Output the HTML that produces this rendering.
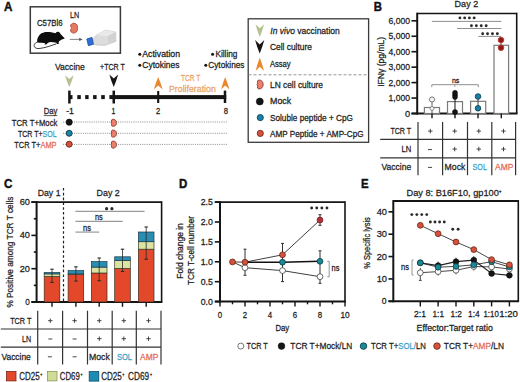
<!DOCTYPE html>
<html><head><meta charset="utf-8"><style>
html,body{margin:0;padding:0;background:#fff;width:520px;height:382px;overflow:hidden}
svg{display:block}
text{font-family:"Liberation Sans",sans-serif}
</style></head><body>
<svg width="520" height="382" viewBox="0 0 520 382">
<rect width="520" height="382" fill="#fff"/>
<text x="3.90" y="10.70" font-size="13.28" fill="#111" stroke="#111" stroke-width="0.45" font-weight="bold" textLength="8.40" lengthAdjust="spacingAndGlyphs">A</text>
<rect x="30.30" y="6.80" width="90.10" height="46.40" fill="none" stroke="#3a3a3a" stroke-width="1.5"/>
<text x="36.90" y="26.10" font-size="9.12" fill="#1e1e1e" stroke="#1e1e1e" stroke-width="0.26" font-weight="normal" textLength="25.70" lengthAdjust="spacingAndGlyphs">C57Bl6</text>
<text x="70.00" y="17.60" font-size="9.44" fill="#1e1e1e" stroke="#1e1e1e" stroke-width="0.26" font-weight="normal" textLength="9.20" lengthAdjust="spacingAndGlyphs">LN</text>
<path d="M37.3,42.3 C36.6,39.5 38,36 41,33.6 C43,32.3 45,31.8 47.3,31.9 C50,31.9 52.5,32.4 55.5,33.2 C56.5,32.2 57.8,31.6 58.7,32.0 C59.6,32.4 60.2,33.2 60.4,33.8 C61.4,34.8 62.8,36.6 64.8,38.3 C64,39 62.8,39.3 61.8,39.5 C60.6,40.2 59.6,40.8 59.1,41.2 L58.4,43.3 L59.4,44.1 L57.2,44.1 L56.4,42.8 C54.5,42.3 52.5,42 50.4,42 C49,42.3 48,42.9 47.2,43.4 L46.4,44.4 L44.4,44.5 L45.4,43.2 C43,43.2 40,43 37.3,42.3 Z" fill="#0d0d0d"/>
<path d="M38.2,41.8 C35,42.6 33.6,44.6 34.3,46.6 C35,48.3 37.2,48.8 40,48.4 C45,47.8 51,45.8 56.5,43.8" fill="none" stroke="#1a1a1a" stroke-width="0.85"/>
<path d="M74,23.3 C77,23.3 77.8,26 77.6,28.5 C77.4,31.5 76,33.1 73.8,33.1 C71.5,33.1 70.3,31.5 70.6,29.8 C70.8,28.8 71.7,28.6 71.7,28 C71.7,27.4 70.6,27 70.6,26 C70.6,24.3 72,23.3 74,23.3 Z" fill="#e47a62" stroke="#b0503c" stroke-width="0.9"/>
<line x1="69.80" y1="39.40" x2="80.50" y2="39.40" stroke="#666" stroke-width="0.8"/>
<path d="M79.2,37.8 L82.6,39.4 L79.2,41.0 Z" fill="#555"/>
<path d="M93.3,38.6 L96.1,35.3 L105.5,30.2 L115.6,32.0 L116.0,41.4 L104.8,45.4 L96.0,44.9 L93.3,44.2 Z" fill="#dcdcdc" stroke="#bdbdbd" stroke-width="0.6"/>
<path d="M96.1,35.3 L105.5,30.2 L115.6,32.0 L107.5,36.2 Z" fill="#e9e9e9"/>
<path d="M107.5,36.2 L115.6,32.0 L116.0,41.4 L108.5,43.8 Z" fill="#d2d2d2"/>
<path d="M86.8,39.0 L92.0,37.4 L93.4,44.2 L88.4,45.7 Z" fill="#2f6fd4" stroke="#1c4aa8" stroke-width="0.8"/>
<text x="55.00" y="69.50" font-size="9.44" fill="#1e1e1e" stroke="#1e1e1e" stroke-width="0.26" font-weight="normal" textLength="29.80" lengthAdjust="spacingAndGlyphs">Vaccine</text>
<text x="100.00" y="69.50" font-size="9.44" fill="#1e1e1e" stroke="#1e1e1e" stroke-width="0.26" font-weight="normal" textLength="24.80" lengthAdjust="spacingAndGlyphs">+TCR T</text>
<path d="M65.00,75.20 L69.30,79.04 L73.60,75.20 Q71.88,81.20 69.30,87.20 Q66.72,81.20 65.00,75.20 Z" fill="#b5c290"/>
<path d="M109.35,74.40 L113.75,78.43 L118.15,74.40 Q116.39,80.70 113.75,87.00 Q111.11,80.70 109.35,74.40 Z" fill="#151515"/>
<path d="M153.80,89.40 L158.20,85.40 L162.60,89.40 Q160.84,83.15 158.20,76.90 Q155.56,83.15 153.80,89.40 Z" fill="#e8872c"/>
<path d="M221.00,89.40 L225.20,85.40 L229.40,89.40 Q227.72,83.15 225.20,76.90 Q222.68,83.15 221.00,89.40 Z" fill="#e8872c"/>
<line x1="69.40" y1="90.60" x2="69.40" y2="103.50" stroke="#151515" stroke-width="2.5"/>
<line x1="113.75" y1="90.60" x2="113.75" y2="103.50" stroke="#151515" stroke-width="2.5"/>
<line x1="158.20" y1="91.00" x2="158.20" y2="103.00" stroke="#151515" stroke-width="2.1"/>
<line x1="225.00" y1="90.60" x2="225.00" y2="103.00" stroke="#151515" stroke-width="2.5"/>
<rect x="69.70" y="95.10" width="2.80" height="4.00" fill="#151515" stroke="none" stroke-width="1"/>
<rect x="77.30" y="95.10" width="3.50" height="4.00" fill="#151515" stroke="none" stroke-width="1"/>
<rect x="85.20" y="95.10" width="3.40" height="4.00" fill="#151515" stroke="none" stroke-width="1"/>
<rect x="93.10" y="95.10" width="3.50" height="4.00" fill="#151515" stroke="none" stroke-width="1"/>
<rect x="101.20" y="95.10" width="3.60" height="4.00" fill="#151515" stroke="none" stroke-width="1"/>
<rect x="109.40" y="95.10" width="116.80" height="4.00" fill="#151515" stroke="none" stroke-width="1"/>
<text x="142.30" y="57.30" font-size="8.80" fill="#1e1e1e" stroke="#1e1e1e" stroke-width="0.26" font-weight="normal" textLength="37.70" lengthAdjust="spacingAndGlyphs">Activation</text>
<circle cx="139.80" cy="54.30" r="1.50" fill="#151515" stroke="none" stroke-width="0"/>
<text x="142.30" y="68.30" font-size="8.80" fill="#1e1e1e" stroke="#1e1e1e" stroke-width="0.26" font-weight="normal" textLength="37.20" lengthAdjust="spacingAndGlyphs">Cytokines</text>
<circle cx="139.80" cy="65.30" r="1.50" fill="#151515" stroke="none" stroke-width="0"/>
<text x="215.40" y="57.30" font-size="8.80" fill="#1e1e1e" stroke="#1e1e1e" stroke-width="0.26" font-weight="normal" textLength="22.00" lengthAdjust="spacingAndGlyphs">Killing</text>
<circle cx="212.60" cy="54.30" r="1.50" fill="#151515" stroke="none" stroke-width="0"/>
<text x="208.30" y="68.30" font-size="8.80" fill="#1e1e1e" stroke="#1e1e1e" stroke-width="0.26" font-weight="normal" textLength="36.20" lengthAdjust="spacingAndGlyphs">Cytokines</text>
<circle cx="205.80" cy="65.30" r="1.50" fill="#151515" stroke="none" stroke-width="0"/>
<text x="181.00" y="81.20" font-size="9.28" fill="#eba46a" stroke="#eba46a" stroke-width="0.26" font-weight="normal" textLength="19.40" lengthAdjust="spacingAndGlyphs">TCR T</text>
<text x="169.00" y="92.20" font-size="9.28" fill="#eba46a" stroke="#eba46a" stroke-width="0.26" font-weight="normal" textLength="46.80" lengthAdjust="spacingAndGlyphs">Proliferation</text>
<text x="43.70" y="114.20" font-size="8.96" fill="#1e1e1e" stroke="#1e1e1e" stroke-width="0.26" font-weight="normal" textLength="13.70" lengthAdjust="spacingAndGlyphs">Day</text>
<line x1="43.70" y1="115.60" x2="57.40" y2="115.60" stroke="#333" stroke-width="0.8"/>
<text x="66.20" y="114.20" font-size="8.96" fill="#1e1e1e" stroke="#1e1e1e" stroke-width="0.26" font-weight="normal" textLength="7.70" lengthAdjust="spacingAndGlyphs">-1</text>
<text x="111.60" y="114.20" font-size="8.96" fill="#1e1e1e" stroke="#1e1e1e" stroke-width="0.26" font-weight="normal" textLength="3.80" lengthAdjust="spacingAndGlyphs">1</text>
<text x="156.00" y="114.20" font-size="8.96" fill="#1e1e1e" stroke="#1e1e1e" stroke-width="0.26" font-weight="normal" textLength="4.20" lengthAdjust="spacingAndGlyphs">2</text>
<text x="223.70" y="114.20" font-size="8.96" fill="#1e1e1e" stroke="#1e1e1e" stroke-width="0.26" font-weight="normal" textLength="4.30" lengthAdjust="spacingAndGlyphs">8</text>
<line x1="63.00" y1="122.00" x2="228.00" y2="122.00" stroke="#8a8a8a" stroke-width="0.9" stroke-dasharray="1.1,1.1"/>
<line x1="63.00" y1="133.30" x2="228.00" y2="133.30" stroke="#8a8a8a" stroke-width="0.9" stroke-dasharray="1.1,1.1"/>
<line x1="63.00" y1="144.40" x2="228.00" y2="144.40" stroke="#8a8a8a" stroke-width="0.9" stroke-dasharray="1.1,1.1"/>
<text x="11.80" y="125.50" font-size="9.28" fill="#1e1e1e" stroke="#1e1e1e" stroke-width="0.26" font-weight="normal" textLength="45.60" lengthAdjust="spacingAndGlyphs">TCR T+Mock</text>
<text x="18" y="136.5" font-size="9.28" fill="#1e1e1e" stroke="#1e1e1e" stroke-width="0.26" textLength="38.6" lengthAdjust="spacingAndGlyphs">TCR T+<tspan fill="#3aa3c8" stroke="#3aa3c8">SOL</tspan></text>
<text x="14.2" y="147.5" font-size="9.28" fill="#1e1e1e" stroke="#1e1e1e" stroke-width="0.26" textLength="42.4" lengthAdjust="spacingAndGlyphs">TCR T+<tspan fill="#e46a55" stroke="#e46a55">AMP</tspan></text>
<circle cx="69.20" cy="122.20" r="3.10" fill="#151515" stroke="#000" stroke-width="0.6"/>
<circle cx="69.20" cy="133.30" r="3.00" fill="#1a84a6" stroke="#0b3a42" stroke-width="0.9"/>
<circle cx="69.20" cy="144.20" r="3.00" fill="#d6503a" stroke="#6a2418" stroke-width="0.9"/>
<path d="M112.70,119.30 C117.80,118.95 117.80,126.65 112.70,126.30 C110.60,126.30 112.10,122.80 111.20,122.80 C112.10,122.80 110.60,119.30 112.70,119.30 Z" fill="#ec806e" stroke="#934030" stroke-width="1.0"/>
<path d="M112.70,130.10 C117.80,129.75 117.80,137.45 112.70,137.10 C110.60,137.10 112.10,133.60 111.20,133.60 C112.10,133.60 110.60,130.10 112.70,130.10 Z" fill="#ec806e" stroke="#934030" stroke-width="1.0"/>
<path d="M112.70,141.10 C117.80,140.75 117.80,148.45 112.70,148.10 C110.60,148.10 112.10,144.60 111.20,144.60 C112.10,144.60 110.60,141.10 112.70,141.10 Z" fill="#ec806e" stroke="#934030" stroke-width="1.0"/>
<rect x="248.20" y="18.80" width="120.40" height="123.50" fill="none" stroke="#3a3a3a" stroke-width="1.3"/>
<path d="M255.50,24.30 L259.80,28.36 L264.10,24.30 Q262.38,30.65 259.80,37.00 Q257.22,30.65 255.50,24.30 Z" fill="#b5c290"/>
<path d="M255.10,40.10 L259.70,44.42 L264.30,40.10 Q262.46,46.85 259.70,53.60 Q256.94,46.85 255.10,40.10 Z" fill="#151515"/>
<path d="M255.60,71.10 L259.80,66.78 L264.00,71.10 Q262.32,64.35 259.80,57.60 Q257.28,64.35 255.60,71.10 Z" fill="#e8872c"/>
<text x="270.3" y="34.2" font-size="8.96" fill="#1e1e1e" stroke="#1e1e1e" stroke-width="0.26" textLength="69.5" lengthAdjust="spacingAndGlyphs"><tspan font-style="italic">In vivo</tspan> vaccination</text>
<text x="269.90" y="50.40" font-size="8.96" fill="#1e1e1e" stroke="#1e1e1e" stroke-width="0.26" font-weight="normal" textLength="42.10" lengthAdjust="spacingAndGlyphs">Cell culture</text>
<text x="269.90" y="67.10" font-size="8.96" fill="#1e1e1e" stroke="#1e1e1e" stroke-width="0.26" font-weight="normal" textLength="20.70" lengthAdjust="spacingAndGlyphs">Assay</text>
<line x1="248.50" y1="74.80" x2="368.50" y2="74.80" stroke="#8a8a8a" stroke-width="0.9" stroke-dasharray="3,2"/>
<path d="M258.80,80.10 C264.58,79.66 264.58,89.34 258.80,88.90 C256.42,88.90 258.12,84.50 257.10,84.50 C258.12,84.50 256.42,80.10 258.80,80.10 Z" fill="#ec806e" stroke="#934030" stroke-width="1.0"/>
<text x="270.00" y="87.80" font-size="8.96" fill="#1e1e1e" stroke="#1e1e1e" stroke-width="0.26" font-weight="normal" textLength="53.00" lengthAdjust="spacingAndGlyphs">LN cell culture</text>
<circle cx="259.80" cy="101.50" r="3.50" fill="#151515" stroke="#000" stroke-width="0.5"/>
<text x="270.00" y="104.30" font-size="8.96" fill="#1e1e1e" stroke="#1e1e1e" stroke-width="0.26" font-weight="normal" textLength="21.20" lengthAdjust="spacingAndGlyphs">Mock</text>
<circle cx="260.30" cy="117.60" r="3.10" fill="#1a82aa" stroke="#0b3a42" stroke-width="0.8"/>
<text x="270.00" y="120.50" font-size="8.96" fill="#1e1e1e" stroke="#1e1e1e" stroke-width="0.26" font-weight="normal" textLength="82.90" lengthAdjust="spacingAndGlyphs">Soluble peptide + CpG</text>
<circle cx="260.30" cy="133.40" r="3.10" fill="#d6503a" stroke="#6a2418" stroke-width="0.8"/>
<text x="270.00" y="137.00" font-size="8.96" fill="#1e1e1e" stroke="#1e1e1e" stroke-width="0.26" font-weight="normal" textLength="93.60" lengthAdjust="spacingAndGlyphs">AMP Peptide + AMP-CpG</text>
<text x="373.80" y="10.70" font-size="13.28" fill="#111" stroke="#111" stroke-width="0.45" font-weight="bold" textLength="8.20" lengthAdjust="spacingAndGlyphs">B</text>
<text x="454.60" y="7.40" font-size="9.60" fill="#1e1e1e" stroke="#1e1e1e" stroke-width="0.26" font-weight="normal" textLength="23.60" lengthAdjust="spacingAndGlyphs">Day 2</text>
<line x1="417.20" y1="13.50" x2="516.70" y2="13.50" stroke="#151515" stroke-width="1.6"/>
<line x1="516.70" y1="12.70" x2="516.70" y2="113.50" stroke="#151515" stroke-width="1.6"/>
<line x1="417.20" y1="12.70" x2="417.20" y2="114.50" stroke="#151515" stroke-width="2.0"/>
<line x1="411.50" y1="113.50" x2="517.50" y2="113.50" stroke="#151515" stroke-width="2.0"/>
<line x1="411.50" y1="113.50" x2="417.20" y2="113.50" stroke="#151515" stroke-width="1.6"/>
<text x="404.90" y="116.50" font-size="9.28" fill="#1e1e1e" stroke="#1e1e1e" stroke-width="0.26" font-weight="normal" textLength="5.10" lengthAdjust="spacingAndGlyphs">0</text>
<line x1="411.50" y1="98.05" x2="417.20" y2="98.05" stroke="#151515" stroke-width="1.6"/>
<text x="388.60" y="101.05" font-size="9.28" fill="#1e1e1e" stroke="#1e1e1e" stroke-width="0.26" font-weight="normal" textLength="21.40" lengthAdjust="spacingAndGlyphs">1,000</text>
<line x1="411.50" y1="82.60" x2="417.20" y2="82.60" stroke="#151515" stroke-width="1.6"/>
<text x="388.60" y="85.60" font-size="9.28" fill="#1e1e1e" stroke="#1e1e1e" stroke-width="0.26" font-weight="normal" textLength="21.40" lengthAdjust="spacingAndGlyphs">2,000</text>
<line x1="411.50" y1="67.15" x2="417.20" y2="67.15" stroke="#151515" stroke-width="1.6"/>
<text x="388.60" y="70.15" font-size="9.28" fill="#1e1e1e" stroke="#1e1e1e" stroke-width="0.26" font-weight="normal" textLength="21.40" lengthAdjust="spacingAndGlyphs">3,000</text>
<line x1="411.50" y1="51.70" x2="417.20" y2="51.70" stroke="#151515" stroke-width="1.6"/>
<text x="388.60" y="54.70" font-size="9.28" fill="#1e1e1e" stroke="#1e1e1e" stroke-width="0.26" font-weight="normal" textLength="21.40" lengthAdjust="spacingAndGlyphs">4,000</text>
<line x1="411.50" y1="36.25" x2="417.20" y2="36.25" stroke="#151515" stroke-width="1.6"/>
<text x="388.60" y="39.25" font-size="9.28" fill="#1e1e1e" stroke="#1e1e1e" stroke-width="0.26" font-weight="normal" textLength="21.40" lengthAdjust="spacingAndGlyphs">5,000</text>
<line x1="411.50" y1="20.80" x2="417.20" y2="20.80" stroke="#151515" stroke-width="1.6"/>
<text x="388.60" y="23.80" font-size="9.28" fill="#1e1e1e" stroke="#1e1e1e" stroke-width="0.26" font-weight="normal" textLength="21.40" lengthAdjust="spacingAndGlyphs">6,000</text>
<text transform="translate(383.60,86.80) rotate(-90)" x="0" y="0" font-size="9.28" fill="#1e1e1e" stroke="#1e1e1e" stroke-width="0.26" textLength="50.00" lengthAdjust="spacingAndGlyphs">IFNγ (pg/mL)</text>
<line x1="431.80" y1="21.40" x2="501.30" y2="21.40" stroke="#8f8f8f" stroke-width="1.0"/>
<line x1="457.00" y1="28.50" x2="501.30" y2="28.50" stroke="#8f8f8f" stroke-width="1.0"/>
<line x1="478.30" y1="36.40" x2="501.30" y2="36.40" stroke="#8f8f8f" stroke-width="1.0"/>
<circle cx="459.95" cy="17.90" r="1.45" fill="#2a2a2a"/>
<circle cx="464.68" cy="17.90" r="1.45" fill="#2a2a2a"/>
<circle cx="469.42" cy="17.90" r="1.45" fill="#2a2a2a"/>
<circle cx="474.15" cy="17.90" r="1.45" fill="#2a2a2a"/>
<circle cx="471.45" cy="25.70" r="1.45" fill="#2a2a2a"/>
<circle cx="476.35" cy="25.70" r="1.45" fill="#2a2a2a"/>
<circle cx="481.25" cy="25.70" r="1.45" fill="#2a2a2a"/>
<circle cx="486.15" cy="25.70" r="1.45" fill="#2a2a2a"/>
<circle cx="482.65" cy="33.80" r="1.45" fill="#2a2a2a"/>
<circle cx="487.55" cy="33.80" r="1.45" fill="#2a2a2a"/>
<circle cx="492.45" cy="33.80" r="1.45" fill="#2a2a2a"/>
<circle cx="497.35" cy="33.80" r="1.45" fill="#2a2a2a"/>
<rect x="424.40" y="107.50" width="15.10" height="6.00" fill="#fff" stroke="#7a7a7a" stroke-width="1.2"/>
<rect x="447.50" y="101.60" width="15.00" height="11.90" fill="#fff" stroke="#7a7a7a" stroke-width="1.2"/>
<rect x="470.60" y="101.30" width="15.10" height="12.20" fill="#fff" stroke="#7a7a7a" stroke-width="1.2"/>
<rect x="494.00" y="45.30" width="14.60" height="68.20" fill="#fff" stroke="#7a7a7a" stroke-width="1.2"/>
<path d="M431.8,87.2 L431.8,84.7 L478.3,84.7 L478.3,87.2" fill="none" stroke="#8f8f8f" stroke-width="1"/>
<line x1="454.80" y1="84.70" x2="454.80" y2="87.20" stroke="#8f8f8f" stroke-width="0.8"/>
<text x="451.9" y="82.8" font-size="7.95" fill="#1e1e1e" stroke="#1e1e1e" stroke-width="0.26" textLength="7.4" lengthAdjust="spacingAndGlyphs">ns</text>
<line x1="432.00" y1="99.50" x2="432.00" y2="113.50" stroke="#555" stroke-width="0.9"/>
<circle cx="432.00" cy="99.50" r="2.60" fill="#f4f4f4" stroke="#666" stroke-width="0.9"/>
<circle cx="432.00" cy="108.50" r="2.00" fill="#f4f4f4" stroke="#666" stroke-width="0.7"/>
<line x1="455.00" y1="93.00" x2="455.00" y2="113.50" stroke="#151515" stroke-width="1.0"/>
<circle cx="455.00" cy="92.80" r="2.50" fill="#151515" stroke="#000" stroke-width="0.4"/>
<circle cx="455.00" cy="95.20" r="2.50" fill="#151515" stroke="#000" stroke-width="0.4"/>
<circle cx="455.00" cy="97.20" r="2.40" fill="#151515" stroke="#000" stroke-width="0.4"/>
<circle cx="455.00" cy="112.00" r="2.60" fill="#151515" stroke="#000" stroke-width="0.4"/>
<line x1="478.00" y1="96.50" x2="478.00" y2="108.30" stroke="#333" stroke-width="0.9"/>
<circle cx="478.00" cy="96.50" r="2.80" fill="#1a7fa6" stroke="#0b3a42" stroke-width="0.8"/>
<circle cx="478.00" cy="108.30" r="2.80" fill="#1a7fa6" stroke="#0b3a42" stroke-width="0.8"/>
<line x1="501.00" y1="40.00" x2="501.00" y2="49.00" stroke="#333" stroke-width="0.9"/>
<circle cx="501.00" cy="40.00" r="2.80" fill="#8e1a1e" stroke="#c03a2e" stroke-width="0.9"/>
<circle cx="501.00" cy="47.70" r="2.80" fill="#8e1a1e" stroke="#c03a2e" stroke-width="0.9"/>
<line x1="432.00" y1="113.50" x2="432.00" y2="118.20" stroke="#151515" stroke-width="1.4"/>
<line x1="455.00" y1="113.50" x2="455.00" y2="118.20" stroke="#151515" stroke-width="1.4"/>
<line x1="478.00" y1="113.50" x2="478.00" y2="118.20" stroke="#151515" stroke-width="1.4"/>
<line x1="501.30" y1="113.50" x2="501.30" y2="118.20" stroke="#151515" stroke-width="1.4"/>
<line x1="418.00" y1="121.90" x2="418.00" y2="175.20" stroke="#333" stroke-width="1.2"/>
<line x1="442.60" y1="121.90" x2="442.60" y2="175.20" stroke="#333" stroke-width="1.2"/>
<line x1="467.50" y1="121.90" x2="467.50" y2="175.20" stroke="#333" stroke-width="1.2"/>
<line x1="491.80" y1="121.90" x2="491.80" y2="175.20" stroke="#333" stroke-width="1.2"/>
<line x1="515.60" y1="121.90" x2="515.60" y2="175.20" stroke="#333" stroke-width="1.2"/>
<line x1="380.20" y1="139.40" x2="516.00" y2="139.40" stroke="#333" stroke-width="1.2"/>
<line x1="380.20" y1="157.80" x2="516.00" y2="157.80" stroke="#333" stroke-width="1.2"/>
<text x="390.40" y="134.00" font-size="9.44" fill="#1e1e1e" stroke="#1e1e1e" stroke-width="0.26" font-weight="normal" textLength="20.80" lengthAdjust="spacingAndGlyphs">TCR T</text>
<text x="401.40" y="151.70" font-size="9.44" fill="#1e1e1e" stroke="#1e1e1e" stroke-width="0.26" font-weight="normal" textLength="9.80" lengthAdjust="spacingAndGlyphs">LN</text>
<text x="381.50" y="170.10" font-size="9.44" fill="#1e1e1e" stroke="#1e1e1e" stroke-width="0.26" font-weight="normal" textLength="29.70" lengthAdjust="spacingAndGlyphs">Vaccine</text>
<line x1="428.10" y1="131.10" x2="432.50" y2="131.10" stroke="#333" stroke-width="0.9"/>
<line x1="430.30" y1="128.90" x2="430.30" y2="133.30" stroke="#333" stroke-width="0.9"/>
<line x1="452.50" y1="131.10" x2="456.90" y2="131.10" stroke="#333" stroke-width="0.9"/>
<line x1="454.70" y1="128.90" x2="454.70" y2="133.30" stroke="#333" stroke-width="0.9"/>
<line x1="476.60" y1="131.10" x2="481.00" y2="131.10" stroke="#333" stroke-width="0.9"/>
<line x1="478.80" y1="128.90" x2="478.80" y2="133.30" stroke="#333" stroke-width="0.9"/>
<line x1="501.30" y1="131.10" x2="505.70" y2="131.10" stroke="#333" stroke-width="0.9"/>
<line x1="503.50" y1="128.90" x2="503.50" y2="133.30" stroke="#333" stroke-width="0.9"/>
<line x1="428.00" y1="149.60" x2="432.00" y2="149.60" stroke="#333" stroke-width="0.9"/>
<line x1="452.50" y1="149.10" x2="456.90" y2="149.10" stroke="#333" stroke-width="0.9"/>
<line x1="454.70" y1="146.90" x2="454.70" y2="151.30" stroke="#333" stroke-width="0.9"/>
<line x1="476.60" y1="149.10" x2="481.00" y2="149.10" stroke="#333" stroke-width="0.9"/>
<line x1="478.80" y1="146.90" x2="478.80" y2="151.30" stroke="#333" stroke-width="0.9"/>
<line x1="501.30" y1="149.10" x2="505.70" y2="149.10" stroke="#333" stroke-width="0.9"/>
<line x1="503.50" y1="146.90" x2="503.50" y2="151.30" stroke="#333" stroke-width="0.9"/>
<line x1="428.00" y1="167.40" x2="432.00" y2="167.40" stroke="#333" stroke-width="0.9"/>
<text x="444.60" y="170.10" font-size="9.44" fill="#1e1e1e" stroke="#1e1e1e" stroke-width="0.26" font-weight="normal" textLength="20.70" lengthAdjust="spacingAndGlyphs">Mock</text>
<text x="472.60" y="170.10" font-size="9.44" fill="#3aa3c8" stroke="#3aa3c8" stroke-width="0.26" font-weight="normal" textLength="14.30" lengthAdjust="spacingAndGlyphs">SOL</text>
<text x="495.00" y="170.10" font-size="9.44" fill="#e46a55" stroke="#e46a55" stroke-width="0.26" font-weight="normal" textLength="18.30" lengthAdjust="spacingAndGlyphs">AMP</text>
<text x="3.90" y="188.10" font-size="12.80" fill="#111" stroke="#111" stroke-width="0.45" font-weight="bold" textLength="8.40" lengthAdjust="spacingAndGlyphs">C</text>
<text x="37.70" y="196.00" font-size="9.92" fill="#1e1e1e" stroke="#1e1e1e" stroke-width="0.26" font-weight="normal" textLength="22.80" lengthAdjust="spacingAndGlyphs">Day 1</text>
<text x="96.60" y="195.80" font-size="9.92" fill="#1e1e1e" stroke="#1e1e1e" stroke-width="0.26" font-weight="normal" textLength="23.10" lengthAdjust="spacingAndGlyphs">Day 2</text>
<line x1="31.40" y1="202.10" x2="161.60" y2="202.10" stroke="#151515" stroke-width="1.8"/>
<line x1="161.60" y1="201.20" x2="161.60" y2="302.00" stroke="#151515" stroke-width="1.6"/>
<line x1="36.60" y1="201.20" x2="36.60" y2="303.00" stroke="#151515" stroke-width="2.0"/>
<line x1="31.40" y1="302.00" x2="162.40" y2="302.00" stroke="#151515" stroke-width="2.0"/>
<line x1="31.40" y1="302.00" x2="36.60" y2="302.00" stroke="#151515" stroke-width="1.6"/>
<line x1="31.40" y1="268.70" x2="36.60" y2="268.70" stroke="#151515" stroke-width="1.6"/>
<line x1="31.40" y1="235.40" x2="36.60" y2="235.40" stroke="#151515" stroke-width="1.6"/>
<line x1="31.40" y1="202.10" x2="36.60" y2="202.10" stroke="#151515" stroke-width="1.6"/>
<line x1="33.80" y1="285.35" x2="36.60" y2="285.35" stroke="#151515" stroke-width="1.6"/>
<line x1="33.80" y1="252.05" x2="36.60" y2="252.05" stroke="#151515" stroke-width="1.6"/>
<line x1="33.80" y1="218.75" x2="36.60" y2="218.75" stroke="#151515" stroke-width="1.6"/>
<text x="19.70" y="205.10" font-size="9.28" fill="#1e1e1e" stroke="#1e1e1e" stroke-width="0.26" font-weight="normal" textLength="10.20" lengthAdjust="spacingAndGlyphs">60</text>
<text x="19.70" y="238.40" font-size="9.28" fill="#1e1e1e" stroke="#1e1e1e" stroke-width="0.26" font-weight="normal" textLength="10.20" lengthAdjust="spacingAndGlyphs">40</text>
<text x="19.70" y="271.70" font-size="9.28" fill="#1e1e1e" stroke="#1e1e1e" stroke-width="0.26" font-weight="normal" textLength="10.20" lengthAdjust="spacingAndGlyphs">20</text>
<text x="25.20" y="305.00" font-size="9.28" fill="#1e1e1e" stroke="#1e1e1e" stroke-width="0.26" font-weight="normal" textLength="4.50" lengthAdjust="spacingAndGlyphs">0</text>
<text transform="translate(13.00,307.60) rotate(-90)" x="0" y="0" font-size="9.28" fill="#1e1e1e" stroke="#1e1e1e" stroke-width="0.26" textLength="111.00" lengthAdjust="spacingAndGlyphs">% Positive among TCR T cells</text>
<line x1="63.50" y1="188.00" x2="63.50" y2="302.00" stroke="#222" stroke-width="1.2" stroke-dasharray="2.6,2.2"/>
<line x1="75.40" y1="211.40" x2="144.60" y2="211.40" stroke="#9a9a9a" stroke-width="1.2"/>
<line x1="75.40" y1="221.30" x2="122.80" y2="221.30" stroke="#9a9a9a" stroke-width="1.2"/>
<line x1="75.40" y1="232.10" x2="99.20" y2="232.10" stroke="#9a9a9a" stroke-width="1.2"/>
<circle cx="106.60" cy="208.70" r="1.6" fill="#2a2a2a"/>
<circle cx="111.90" cy="208.70" r="1.6" fill="#2a2a2a"/>
<text x="95" y="219.8" font-size="8.71" fill="#1e1e1e" stroke="#1e1e1e" stroke-width="0.26" textLength="7.8" lengthAdjust="spacingAndGlyphs">ns</text>
<text x="83.1" y="230.8" font-size="8.71" fill="#1e1e1e" stroke="#1e1e1e" stroke-width="0.26" textLength="7.9" lengthAdjust="spacingAndGlyphs">ns</text>
<rect x="44.20" y="276.50" width="15.60" height="25.50" fill="#e3482b" stroke="#3a2a20" stroke-width="0.7"/>
<rect x="44.20" y="273.90" width="15.60" height="2.60" fill="#dbe3a2" stroke="#3a3a2a" stroke-width="0.7"/>
<rect x="44.20" y="272.50" width="15.60" height="1.40" fill="#2a8db3" stroke="#1a3a4a" stroke-width="0.7"/>
<line x1="52.00" y1="269.20" x2="52.00" y2="282.40" stroke="#2a2a2a" stroke-width="0.8"/>
<line x1="50.30" y1="269.20" x2="53.70" y2="269.20" stroke="#2a2a2a" stroke-width="1.1"/>
<line x1="50.30" y1="282.40" x2="53.70" y2="282.40" stroke="#2a2a2a" stroke-width="1.1"/>
<line x1="52.00" y1="302.00" x2="52.00" y2="306.80" stroke="#151515" stroke-width="1.4"/>
<rect x="68.10" y="274.30" width="15.60" height="27.70" fill="#e3482b" stroke="#3a2a20" stroke-width="0.7"/>
<rect x="68.10" y="273.90" width="15.60" height="0.40" fill="#dbe3a2" stroke="#3a3a2a" stroke-width="0.7"/>
<rect x="68.10" y="270.60" width="15.60" height="3.30" fill="#2a8db3" stroke="#1a3a4a" stroke-width="0.7"/>
<line x1="75.90" y1="266.80" x2="75.90" y2="281.00" stroke="#2a2a2a" stroke-width="0.8"/>
<line x1="74.20" y1="266.80" x2="77.60" y2="266.80" stroke="#2a2a2a" stroke-width="1.1"/>
<line x1="74.20" y1="281.00" x2="77.60" y2="281.00" stroke="#2a2a2a" stroke-width="1.1"/>
<line x1="75.90" y1="302.00" x2="75.90" y2="306.80" stroke="#151515" stroke-width="1.4"/>
<rect x="91.40" y="273.00" width="15.60" height="29.00" fill="#e3482b" stroke="#3a2a20" stroke-width="0.7"/>
<rect x="91.40" y="267.10" width="15.60" height="5.90" fill="#dbe3a2" stroke="#3a3a2a" stroke-width="0.7"/>
<rect x="91.40" y="261.60" width="15.60" height="5.50" fill="#2a8db3" stroke="#1a3a4a" stroke-width="0.7"/>
<line x1="99.20" y1="258.00" x2="99.20" y2="280.70" stroke="#2a2a2a" stroke-width="0.8"/>
<line x1="97.50" y1="258.00" x2="100.90" y2="258.00" stroke="#2a2a2a" stroke-width="1.1"/>
<line x1="97.50" y1="280.70" x2="100.90" y2="280.70" stroke="#2a2a2a" stroke-width="1.1"/>
<line x1="99.20" y1="302.00" x2="99.20" y2="306.80" stroke="#151515" stroke-width="1.4"/>
<rect x="114.70" y="268.40" width="15.60" height="33.60" fill="#e3482b" stroke="#3a2a20" stroke-width="0.7"/>
<rect x="114.70" y="260.50" width="15.60" height="7.90" fill="#dbe3a2" stroke="#3a3a2a" stroke-width="0.7"/>
<rect x="114.70" y="256.80" width="15.60" height="3.70" fill="#2a8db3" stroke="#1a3a4a" stroke-width="0.7"/>
<line x1="122.50" y1="249.20" x2="122.50" y2="271.50" stroke="#2a2a2a" stroke-width="0.8"/>
<line x1="120.80" y1="249.20" x2="124.20" y2="249.20" stroke="#2a2a2a" stroke-width="1.1"/>
<line x1="120.80" y1="271.50" x2="124.20" y2="271.50" stroke="#2a2a2a" stroke-width="1.1"/>
<line x1="122.50" y1="302.00" x2="122.50" y2="306.80" stroke="#151515" stroke-width="1.4"/>
<rect x="138.40" y="249.20" width="15.60" height="52.80" fill="#e3482b" stroke="#3a2a20" stroke-width="0.7"/>
<rect x="138.40" y="241.70" width="15.60" height="7.50" fill="#dbe3a2" stroke="#3a3a2a" stroke-width="0.7"/>
<rect x="138.40" y="232.00" width="15.60" height="9.70" fill="#2a8db3" stroke="#1a3a4a" stroke-width="0.7"/>
<line x1="146.20" y1="227.00" x2="146.20" y2="259.20" stroke="#2a2a2a" stroke-width="0.8"/>
<line x1="144.50" y1="227.00" x2="147.90" y2="227.00" stroke="#2a2a2a" stroke-width="1.1"/>
<line x1="144.50" y1="259.20" x2="147.90" y2="259.20" stroke="#2a2a2a" stroke-width="1.1"/>
<line x1="146.20" y1="302.00" x2="146.20" y2="306.80" stroke="#151515" stroke-width="1.4"/>
<line x1="37.70" y1="310.70" x2="37.70" y2="364.50" stroke="#333" stroke-width="1.2"/>
<line x1="62.60" y1="310.70" x2="62.60" y2="364.50" stroke="#333" stroke-width="1.2"/>
<line x1="87.50" y1="310.70" x2="87.50" y2="364.50" stroke="#333" stroke-width="1.2"/>
<line x1="112.20" y1="310.70" x2="112.20" y2="364.50" stroke="#333" stroke-width="1.2"/>
<line x1="136.30" y1="310.70" x2="136.30" y2="364.50" stroke="#333" stroke-width="1.2"/>
<line x1="161.00" y1="310.70" x2="161.00" y2="364.50" stroke="#333" stroke-width="1.2"/>
<line x1="0.80" y1="329.00" x2="161.00" y2="329.00" stroke="#333" stroke-width="1.2"/>
<line x1="0.80" y1="347.10" x2="161.00" y2="347.10" stroke="#333" stroke-width="1.2"/>
<text x="10.20" y="324.10" font-size="9.44" fill="#1e1e1e" stroke="#1e1e1e" stroke-width="0.26" font-weight="normal" textLength="21.20" lengthAdjust="spacingAndGlyphs">TCR T</text>
<text x="22.00" y="341.90" font-size="9.44" fill="#1e1e1e" stroke="#1e1e1e" stroke-width="0.26" font-weight="normal" textLength="9.10" lengthAdjust="spacingAndGlyphs">LN</text>
<text x="1.50" y="359.50" font-size="9.44" fill="#1e1e1e" stroke="#1e1e1e" stroke-width="0.26" font-weight="normal" textLength="29.30" lengthAdjust="spacingAndGlyphs">Vaccine</text>
<line x1="48.10" y1="320.70" x2="52.50" y2="320.70" stroke="#333" stroke-width="0.9"/>
<line x1="50.30" y1="318.50" x2="50.30" y2="322.90" stroke="#333" stroke-width="0.9"/>
<line x1="72.40" y1="320.70" x2="76.80" y2="320.70" stroke="#333" stroke-width="0.9"/>
<line x1="74.60" y1="318.50" x2="74.60" y2="322.90" stroke="#333" stroke-width="0.9"/>
<line x1="97.10" y1="320.70" x2="101.50" y2="320.70" stroke="#333" stroke-width="0.9"/>
<line x1="99.30" y1="318.50" x2="99.30" y2="322.90" stroke="#333" stroke-width="0.9"/>
<line x1="121.60" y1="320.70" x2="126.00" y2="320.70" stroke="#333" stroke-width="0.9"/>
<line x1="123.80" y1="318.50" x2="123.80" y2="322.90" stroke="#333" stroke-width="0.9"/>
<line x1="146.30" y1="320.70" x2="150.70" y2="320.70" stroke="#333" stroke-width="0.9"/>
<line x1="148.50" y1="318.50" x2="148.50" y2="322.90" stroke="#333" stroke-width="0.9"/>
<line x1="48.30" y1="339.00" x2="52.30" y2="339.00" stroke="#333" stroke-width="0.9"/>
<line x1="72.60" y1="339.00" x2="76.60" y2="339.00" stroke="#333" stroke-width="0.9"/>
<line x1="97.10" y1="338.70" x2="101.50" y2="338.70" stroke="#333" stroke-width="0.9"/>
<line x1="99.30" y1="336.50" x2="99.30" y2="340.90" stroke="#333" stroke-width="0.9"/>
<line x1="121.60" y1="338.70" x2="126.00" y2="338.70" stroke="#333" stroke-width="0.9"/>
<line x1="123.80" y1="336.50" x2="123.80" y2="340.90" stroke="#333" stroke-width="0.9"/>
<line x1="146.30" y1="338.70" x2="150.70" y2="338.70" stroke="#333" stroke-width="0.9"/>
<line x1="148.50" y1="336.50" x2="148.50" y2="340.90" stroke="#333" stroke-width="0.9"/>
<line x1="47.90" y1="356.80" x2="51.90" y2="356.80" stroke="#333" stroke-width="0.9"/>
<line x1="72.60" y1="356.80" x2="76.60" y2="356.80" stroke="#333" stroke-width="0.9"/>
<text x="89.00" y="359.70" font-size="9.44" fill="#1e1e1e" stroke="#1e1e1e" stroke-width="0.26" font-weight="normal" textLength="20.80" lengthAdjust="spacingAndGlyphs">Mock</text>
<text x="116.90" y="359.70" font-size="9.44" fill="#3aa3c8" stroke="#3aa3c8" stroke-width="0.26" font-weight="normal" textLength="15.10" lengthAdjust="spacingAndGlyphs">SOL</text>
<text x="140.00" y="359.70" font-size="9.44" fill="#e46a55" stroke="#e46a55" stroke-width="0.26" font-weight="normal" textLength="18.40" lengthAdjust="spacingAndGlyphs">AMP</text>
<rect x="6.40" y="371.40" width="9.60" height="9.50" fill="#e3482b" stroke="#7a2a1a" stroke-width="0.8"/>
<text x="19.20" y="379.60" font-size="10.08" fill="#1e1e1e" stroke="#1e1e1e" stroke-width="0.26" font-weight="normal" textLength="20.50" lengthAdjust="spacingAndGlyphs">CD25</text>
<text x="40.30" y="376.20" font-size="4.80" fill="#1e1e1e" stroke="#1e1e1e" stroke-width="0.26" font-weight="normal" textLength="2.10" lengthAdjust="spacingAndGlyphs">+</text>
<rect x="47.40" y="371.40" width="9.60" height="9.50" fill="#cfdc98" stroke="#8a9a5a" stroke-width="0.8"/>
<text x="59.80" y="379.60" font-size="10.08" fill="#1e1e1e" stroke="#1e1e1e" stroke-width="0.26" font-weight="normal" textLength="20.00" lengthAdjust="spacingAndGlyphs">CD69</text>
<text x="80.40" y="376.20" font-size="4.80" fill="#1e1e1e" stroke="#1e1e1e" stroke-width="0.26" font-weight="normal" textLength="2.10" lengthAdjust="spacingAndGlyphs">+</text>
<rect x="89.20" y="371.60" width="9.60" height="9.50" fill="#1e8cb2" stroke="#0a4a6a" stroke-width="0.8"/>
<text x="101.20" y="379.80" font-size="10.08" fill="#1e1e1e" stroke="#1e1e1e" stroke-width="0.26" font-weight="normal" textLength="20.60" lengthAdjust="spacingAndGlyphs">CD25</text>
<text x="122.30" y="376.40" font-size="4.80" fill="#1e1e1e" stroke="#1e1e1e" stroke-width="0.26" font-weight="normal" textLength="2.10" lengthAdjust="spacingAndGlyphs">+</text>
<text x="128.00" y="379.80" font-size="10.08" fill="#1e1e1e" stroke="#1e1e1e" stroke-width="0.26" font-weight="normal" textLength="21.20" lengthAdjust="spacingAndGlyphs">CD69</text>
<text x="150.00" y="376.40" font-size="4.80" fill="#1e1e1e" stroke="#1e1e1e" stroke-width="0.26" font-weight="normal" textLength="2.10" lengthAdjust="spacingAndGlyphs">+</text>
<text x="178.90" y="188.30" font-size="12.16" fill="#111" stroke="#111" stroke-width="0.45" font-weight="bold" textLength="8.30" lengthAdjust="spacingAndGlyphs">D</text>
<line x1="214.80" y1="202.10" x2="345.00" y2="202.10" stroke="#151515" stroke-width="1.8"/>
<line x1="345.00" y1="201.20" x2="345.00" y2="301.60" stroke="#151515" stroke-width="1.6"/>
<line x1="220.00" y1="201.20" x2="220.00" y2="302.60" stroke="#151515" stroke-width="2.0"/>
<line x1="214.80" y1="301.60" x2="346.00" y2="301.60" stroke="#151515" stroke-width="2.0"/>
<line x1="214.80" y1="301.60" x2="220.00" y2="301.60" stroke="#151515" stroke-width="1.6"/>
<text x="200.70" y="304.60" font-size="9.28" fill="#1e1e1e" stroke="#1e1e1e" stroke-width="0.26" font-weight="normal" textLength="12.10" lengthAdjust="spacingAndGlyphs">0.0</text>
<line x1="214.80" y1="281.70" x2="220.00" y2="281.70" stroke="#151515" stroke-width="1.6"/>
<text x="200.70" y="284.70" font-size="9.28" fill="#1e1e1e" stroke="#1e1e1e" stroke-width="0.26" font-weight="normal" textLength="12.10" lengthAdjust="spacingAndGlyphs">0.5</text>
<line x1="214.80" y1="261.80" x2="220.00" y2="261.80" stroke="#151515" stroke-width="1.6"/>
<text x="200.70" y="264.80" font-size="9.28" fill="#1e1e1e" stroke="#1e1e1e" stroke-width="0.26" font-weight="normal" textLength="12.10" lengthAdjust="spacingAndGlyphs">1.0</text>
<line x1="214.80" y1="241.90" x2="220.00" y2="241.90" stroke="#151515" stroke-width="1.6"/>
<text x="200.70" y="244.90" font-size="9.28" fill="#1e1e1e" stroke="#1e1e1e" stroke-width="0.26" font-weight="normal" textLength="12.10" lengthAdjust="spacingAndGlyphs">1.5</text>
<line x1="214.80" y1="222.00" x2="220.00" y2="222.00" stroke="#151515" stroke-width="1.6"/>
<text x="200.70" y="225.00" font-size="9.28" fill="#1e1e1e" stroke="#1e1e1e" stroke-width="0.26" font-weight="normal" textLength="12.10" lengthAdjust="spacingAndGlyphs">2.0</text>
<line x1="214.80" y1="202.10" x2="220.00" y2="202.10" stroke="#151515" stroke-width="1.6"/>
<text x="200.70" y="205.10" font-size="9.28" fill="#1e1e1e" stroke="#1e1e1e" stroke-width="0.26" font-weight="normal" textLength="12.10" lengthAdjust="spacingAndGlyphs">2.5</text>
<line x1="220.00" y1="301.60" x2="220.00" y2="306.50" stroke="#151515" stroke-width="1.4"/>
<line x1="232.50" y1="301.60" x2="232.50" y2="304.30" stroke="#151515" stroke-width="1.4"/>
<line x1="245.00" y1="301.60" x2="245.00" y2="306.50" stroke="#151515" stroke-width="1.4"/>
<line x1="257.50" y1="301.60" x2="257.50" y2="304.30" stroke="#151515" stroke-width="1.4"/>
<line x1="270.00" y1="301.60" x2="270.00" y2="306.50" stroke="#151515" stroke-width="1.4"/>
<line x1="282.50" y1="301.60" x2="282.50" y2="304.30" stroke="#151515" stroke-width="1.4"/>
<line x1="295.00" y1="301.60" x2="295.00" y2="306.50" stroke="#151515" stroke-width="1.4"/>
<line x1="307.50" y1="301.60" x2="307.50" y2="304.30" stroke="#151515" stroke-width="1.4"/>
<line x1="320.00" y1="301.60" x2="320.00" y2="306.50" stroke="#151515" stroke-width="1.4"/>
<line x1="332.50" y1="301.60" x2="332.50" y2="304.30" stroke="#151515" stroke-width="1.4"/>
<line x1="345.00" y1="301.60" x2="345.00" y2="306.50" stroke="#151515" stroke-width="1.4"/>
<text x="217.80" y="318.20" font-size="9.28" fill="#1e1e1e" stroke="#1e1e1e" stroke-width="0.26" font-weight="normal" textLength="4.40" lengthAdjust="spacingAndGlyphs">0</text>
<text x="242.80" y="318.20" font-size="9.28" fill="#1e1e1e" stroke="#1e1e1e" stroke-width="0.26" font-weight="normal" textLength="4.40" lengthAdjust="spacingAndGlyphs">2</text>
<text x="267.80" y="318.20" font-size="9.28" fill="#1e1e1e" stroke="#1e1e1e" stroke-width="0.26" font-weight="normal" textLength="4.40" lengthAdjust="spacingAndGlyphs">4</text>
<text x="292.80" y="318.20" font-size="9.28" fill="#1e1e1e" stroke="#1e1e1e" stroke-width="0.26" font-weight="normal" textLength="4.40" lengthAdjust="spacingAndGlyphs">6</text>
<text x="317.80" y="318.20" font-size="9.28" fill="#1e1e1e" stroke="#1e1e1e" stroke-width="0.26" font-weight="normal" textLength="4.40" lengthAdjust="spacingAndGlyphs">8</text>
<text x="340.40" y="318.20" font-size="9.28" fill="#1e1e1e" stroke="#1e1e1e" stroke-width="0.26" font-weight="normal" textLength="9.20" lengthAdjust="spacingAndGlyphs">10</text>
<text x="275.40" y="330.50" font-size="8.96" fill="#1e1e1e" stroke="#1e1e1e" stroke-width="0.26" font-weight="normal" textLength="13.80" lengthAdjust="spacingAndGlyphs">Day</text>
<text transform="translate(183.30,278.80) rotate(-90)" x="0" y="0" font-size="9.12" fill="#1e1e1e" stroke="#1e1e1e" stroke-width="0.26" textLength="55.60" lengthAdjust="spacingAndGlyphs">Fold change in</text>
<text transform="translate(194.30,285.10) rotate(-90)" x="0" y="0" font-size="9.12" fill="#1e1e1e" stroke="#1e1e1e" stroke-width="0.26" textLength="69.20" lengthAdjust="spacingAndGlyphs">TCR T-cell number</text>
<line x1="245.00" y1="249.20" x2="245.00" y2="275.30" stroke="#333" stroke-width="1.0"/>
<line x1="243.50" y1="249.20" x2="246.50" y2="249.20" stroke="#333" stroke-width="1.0"/>
<line x1="243.50" y1="275.30" x2="246.50" y2="275.30" stroke="#333" stroke-width="1.0"/>
<line x1="282.50" y1="243.40" x2="282.50" y2="281.60" stroke="#333" stroke-width="1.0"/>
<line x1="281.00" y1="243.40" x2="284.00" y2="243.40" stroke="#333" stroke-width="1.0"/>
<line x1="281.00" y1="281.60" x2="284.00" y2="281.60" stroke="#333" stroke-width="1.0"/>
<line x1="320.00" y1="250.80" x2="320.00" y2="283.30" stroke="#333" stroke-width="1.0"/>
<line x1="318.50" y1="250.80" x2="321.50" y2="250.80" stroke="#333" stroke-width="1.0"/>
<line x1="318.50" y1="283.30" x2="321.50" y2="283.30" stroke="#333" stroke-width="1.0"/>
<line x1="320.00" y1="214.70" x2="320.00" y2="225.30" stroke="#333" stroke-width="1.0"/>
<line x1="318.50" y1="214.70" x2="321.50" y2="214.70" stroke="#333" stroke-width="1.0"/>
<line x1="318.50" y1="225.30" x2="321.50" y2="225.30" stroke="#333" stroke-width="1.0"/>
<polyline points="232.5,261.9 245.0,267.7 282.5,270.6 320.0,276.7" fill="none" stroke="#2a2a2a" stroke-width="0.9"/>
<polyline points="232.5,261.9 245.0,262.2 282.5,254.8 320.0,220.0" fill="none" stroke="#2a2a2a" stroke-width="0.9"/>
<polyline points="245.0,262.2 282.5,262.2 320.0,261.3" fill="none" stroke="#111" stroke-width="1.6"/>
<circle cx="232.50" cy="261.90" r="2.90" fill="#d6503a" stroke="#6a2418" stroke-width="0.8"/>
<circle cx="245.00" cy="267.70" r="2.90" fill="#fff" stroke="#444" stroke-width="0.8"/>
<circle cx="245.00" cy="262.20" r="2.90" fill="#d6503a" stroke="#6a2418" stroke-width="0.8"/>
<circle cx="282.50" cy="270.60" r="2.90" fill="#fff" stroke="#444" stroke-width="0.8"/>
<circle cx="282.50" cy="262.20" r="2.90" fill="#1a8a98" stroke="#0b3a42" stroke-width="0.8"/>
<circle cx="282.50" cy="254.80" r="2.90" fill="#d6503a" stroke="#6a2418" stroke-width="0.8"/>
<circle cx="320.00" cy="276.70" r="2.90" fill="#fff" stroke="#444" stroke-width="0.8"/>
<circle cx="320.00" cy="261.30" r="2.90" fill="#1a8a98" stroke="#0b3a42" stroke-width="0.8"/>
<circle cx="320.00" cy="220.00" r="2.90" fill="#b0323a" stroke="#7a1a20" stroke-width="0.8"/>
<circle cx="311.65" cy="208.00" r="1.45" fill="#2a2a2a"/>
<circle cx="316.75" cy="208.00" r="1.45" fill="#2a2a2a"/>
<circle cx="321.85" cy="208.00" r="1.45" fill="#2a2a2a"/>
<circle cx="326.95" cy="208.00" r="1.45" fill="#2a2a2a"/>
<path d="M327.3,261.3 L329.2,261.3 L329.2,276.7 L327.3,276.7" fill="none" stroke="#8a8a8a" stroke-width="0.9"/>
<text x="331.6" y="271.3" font-size="8.71" fill="#1e1e1e" stroke="#1e1e1e" stroke-width="0.26" textLength="7.9" lengthAdjust="spacingAndGlyphs">ns</text>
<circle cx="240.80" cy="346.10" r="3.00" fill="#fff" stroke="#777" stroke-width="1.0"/>
<text x="246.60" y="349.20" font-size="9.60" fill="#1e1e1e" stroke="#1e1e1e" stroke-width="0.26" font-weight="normal" textLength="21.10" lengthAdjust="spacingAndGlyphs">TCR T</text>
<circle cx="281.50" cy="346.10" r="3.40" fill="#151515" stroke="#000" stroke-width="0.4"/>
<text x="290.30" y="349.20" font-size="9.60" fill="#1e1e1e" stroke="#1e1e1e" stroke-width="0.26" font-weight="normal" textLength="62.00" lengthAdjust="spacingAndGlyphs">TCR T+Mock/LN</text>
<circle cx="363.50" cy="346.10" r="3.30" fill="#1a8a98" stroke="#0b3a42" stroke-width="0.8"/>
<text x="371" y="349.2" font-size="9.60" fill="#1e1e1e" stroke="#1e1e1e" stroke-width="0.26" textLength="54.8" lengthAdjust="spacingAndGlyphs">TCR T+<tspan fill="#3aa3c8" stroke="#3aa3c8">SOL/</tspan>LN</text>
<circle cx="437.00" cy="346.10" r="3.30" fill="#d6503a" stroke="#6a2418" stroke-width="0.8"/>
<text x="443.8" y="349.2" font-size="9.60" fill="#1e1e1e" stroke="#1e1e1e" stroke-width="0.26" textLength="60.2" lengthAdjust="spacingAndGlyphs">TCR T+<tspan fill="#e46a55" stroke="#e46a55">AMP</tspan>/LN</text>
<text x="361.00" y="187.90" font-size="12.80" fill="#111" stroke="#111" stroke-width="0.45" font-weight="bold" textLength="7.60" lengthAdjust="spacingAndGlyphs">E</text>
<text x="406.5" y="196.2" font-size="9.92" fill="#1e1e1e" stroke="#1e1e1e" stroke-width="0.26" textLength="95" lengthAdjust="spacingAndGlyphs">Day 8: B16F10, gp100<tspan font-size="5" dy="-3.2">+</tspan></text>
<line x1="393.30" y1="201.00" x2="518.30" y2="201.00" stroke="#151515" stroke-width="1.8"/>
<line x1="518.30" y1="200.10" x2="518.30" y2="301.30" stroke="#151515" stroke-width="1.6"/>
<line x1="393.30" y1="200.10" x2="393.30" y2="302.30" stroke="#151515" stroke-width="2.0"/>
<line x1="388.50" y1="301.30" x2="519.10" y2="301.30" stroke="#151515" stroke-width="2.0"/>
<line x1="388.50" y1="301.30" x2="393.30" y2="301.30" stroke="#151515" stroke-width="1.6"/>
<text x="381.80" y="304.30" font-size="9.28" fill="#1e1e1e" stroke="#1e1e1e" stroke-width="0.26" font-weight="normal" textLength="4.80" lengthAdjust="spacingAndGlyphs">0</text>
<line x1="388.50" y1="278.93" x2="393.30" y2="278.93" stroke="#151515" stroke-width="1.6"/>
<text x="376.70" y="281.93" font-size="9.28" fill="#1e1e1e" stroke="#1e1e1e" stroke-width="0.26" font-weight="normal" textLength="10.30" lengthAdjust="spacingAndGlyphs">10</text>
<line x1="388.50" y1="256.56" x2="393.30" y2="256.56" stroke="#151515" stroke-width="1.6"/>
<text x="376.70" y="259.56" font-size="9.28" fill="#1e1e1e" stroke="#1e1e1e" stroke-width="0.26" font-weight="normal" textLength="10.30" lengthAdjust="spacingAndGlyphs">20</text>
<line x1="388.50" y1="234.19" x2="393.30" y2="234.19" stroke="#151515" stroke-width="1.6"/>
<text x="376.70" y="237.19" font-size="9.28" fill="#1e1e1e" stroke="#1e1e1e" stroke-width="0.26" font-weight="normal" textLength="10.30" lengthAdjust="spacingAndGlyphs">30</text>
<line x1="388.50" y1="211.82" x2="393.30" y2="211.82" stroke="#151515" stroke-width="1.6"/>
<text x="376.70" y="214.82" font-size="9.28" fill="#1e1e1e" stroke="#1e1e1e" stroke-width="0.26" font-weight="normal" textLength="10.30" lengthAdjust="spacingAndGlyphs">40</text>
<text transform="translate(370.30,268.80) rotate(-90)" x="0" y="0" font-size="9.28" fill="#1e1e1e" stroke="#1e1e1e" stroke-width="0.26" textLength="51.60" lengthAdjust="spacingAndGlyphs">% Specific lysis</text>
<line x1="420.30" y1="301.30" x2="420.30" y2="306.40" stroke="#151515" stroke-width="1.4"/>
<line x1="438.10" y1="301.30" x2="438.10" y2="306.40" stroke="#151515" stroke-width="1.4"/>
<line x1="456.00" y1="301.30" x2="456.00" y2="306.40" stroke="#151515" stroke-width="1.4"/>
<line x1="473.80" y1="301.30" x2="473.80" y2="306.40" stroke="#151515" stroke-width="1.4"/>
<line x1="491.60" y1="301.30" x2="491.60" y2="306.40" stroke="#151515" stroke-width="1.4"/>
<line x1="509.40" y1="301.30" x2="509.40" y2="306.40" stroke="#151515" stroke-width="1.4"/>
<text x="414.00" y="317.00" font-size="9.28" fill="#1e1e1e" stroke="#1e1e1e" stroke-width="0.26" font-weight="normal" textLength="12.00" lengthAdjust="spacingAndGlyphs">2:1</text>
<text x="432.50" y="317.00" font-size="9.28" fill="#1e1e1e" stroke="#1e1e1e" stroke-width="0.26" font-weight="normal" textLength="11.50" lengthAdjust="spacingAndGlyphs">1:1</text>
<text x="450.40" y="317.00" font-size="9.28" fill="#1e1e1e" stroke="#1e1e1e" stroke-width="0.26" font-weight="normal" textLength="11.50" lengthAdjust="spacingAndGlyphs">1:2</text>
<text x="468.00" y="317.00" font-size="9.28" fill="#1e1e1e" stroke="#1e1e1e" stroke-width="0.26" font-weight="normal" textLength="11.60" lengthAdjust="spacingAndGlyphs">1:4</text>
<text x="483.50" y="317.00" font-size="9.28" fill="#1e1e1e" stroke="#1e1e1e" stroke-width="0.26" font-weight="normal" textLength="15.30" lengthAdjust="spacingAndGlyphs">1:10</text>
<text x="499.20" y="317.00" font-size="9.28" fill="#1e1e1e" stroke="#1e1e1e" stroke-width="0.26" font-weight="normal" textLength="18.80" lengthAdjust="spacingAndGlyphs">1:20</text>
<text x="416.60" y="331.00" font-size="9.28" fill="#1e1e1e" stroke="#1e1e1e" stroke-width="0.26" font-weight="normal" textLength="76.20" lengthAdjust="spacingAndGlyphs">Effector:Target ratio</text>
<circle cx="411.85" cy="214.60" r="1.45" fill="#2a2a2a"/>
<circle cx="416.82" cy="214.60" r="1.45" fill="#2a2a2a"/>
<circle cx="421.78" cy="214.60" r="1.45" fill="#2a2a2a"/>
<circle cx="426.75" cy="214.60" r="1.45" fill="#2a2a2a"/>
<circle cx="430.35" cy="222.00" r="1.45" fill="#2a2a2a"/>
<circle cx="434.98" cy="222.00" r="1.45" fill="#2a2a2a"/>
<circle cx="439.62" cy="222.00" r="1.45" fill="#2a2a2a"/>
<circle cx="444.25" cy="222.00" r="1.45" fill="#2a2a2a"/>
<circle cx="452.75" cy="229.20" r="1.45" fill="#2a2a2a"/>
<circle cx="458.15" cy="229.20" r="1.45" fill="#2a2a2a"/>
<line x1="420.30" y1="222.80" x2="420.30" y2="227.80" stroke="#333" stroke-width="0.9"/>
<line x1="438.10" y1="231.20" x2="438.10" y2="236.20" stroke="#333" stroke-width="0.9"/>
<line x1="456.00" y1="239.50" x2="456.00" y2="244.50" stroke="#333" stroke-width="0.9"/>
<line x1="473.80" y1="247.10" x2="473.80" y2="252.10" stroke="#333" stroke-width="0.9"/>
<line x1="491.60" y1="257.10" x2="491.60" y2="262.10" stroke="#333" stroke-width="0.9"/>
<line x1="509.40" y1="262.30" x2="509.40" y2="267.30" stroke="#333" stroke-width="0.9"/>
<line x1="420.30" y1="268.00" x2="420.30" y2="280.40" stroke="#333" stroke-width="0.9"/>
<line x1="418.90" y1="280.40" x2="421.70" y2="280.40" stroke="#333" stroke-width="0.9"/>
<line x1="438.10" y1="261.60" x2="438.10" y2="275.60" stroke="#333" stroke-width="0.9"/>
<line x1="456.00" y1="257.70" x2="456.00" y2="274.30" stroke="#333" stroke-width="0.9"/>
<line x1="473.80" y1="256.10" x2="473.80" y2="270.50" stroke="#333" stroke-width="0.9"/>
<polyline points="420.3,272.7 438.1,271.6 456.0,270.3 473.8,266.5 491.6,266.9 509.4,269.0" fill="none" stroke="#333" stroke-width="0.9"/>
<polyline points="420.3,262.8 438.1,267.2 456.0,266.4 473.8,264.8 491.6,261.7 509.4,266.9" fill="none" stroke="#333" stroke-width="0.9"/>
<polyline points="420.3,262.8 438.1,265.6 456.0,261.7 473.8,260.1 491.6,273.5 509.4,275.3" fill="none" stroke="#222" stroke-width="1.2"/>
<polyline points="420.3,225.3 438.1,233.7 456.0,242.0 473.8,249.6 491.6,259.6 509.4,264.8" fill="none" stroke="#333" stroke-width="0.9"/>
<circle cx="420.30" cy="272.70" r="2.90" fill="#fff" stroke="#444" stroke-width="0.8"/>
<circle cx="438.10" cy="271.60" r="2.90" fill="#fff" stroke="#444" stroke-width="0.8"/>
<circle cx="456.00" cy="270.30" r="2.90" fill="#fff" stroke="#444" stroke-width="0.8"/>
<circle cx="473.80" cy="266.50" r="2.90" fill="#fff" stroke="#444" stroke-width="0.8"/>
<circle cx="491.60" cy="266.90" r="2.90" fill="#fff" stroke="#444" stroke-width="0.8"/>
<circle cx="509.40" cy="269.00" r="2.90" fill="#fff" stroke="#444" stroke-width="0.8"/>
<circle cx="420.30" cy="262.80" r="2.90" fill="#151515" stroke="#000" stroke-width="0.5"/>
<circle cx="438.10" cy="265.60" r="2.90" fill="#151515" stroke="#000" stroke-width="0.5"/>
<circle cx="456.00" cy="261.70" r="2.90" fill="#151515" stroke="#000" stroke-width="0.5"/>
<circle cx="473.80" cy="260.10" r="2.90" fill="#151515" stroke="#000" stroke-width="0.5"/>
<circle cx="491.60" cy="273.50" r="2.90" fill="#151515" stroke="#000" stroke-width="0.5"/>
<circle cx="509.40" cy="275.30" r="2.90" fill="#151515" stroke="#000" stroke-width="0.5"/>
<circle cx="420.30" cy="262.80" r="2.90" fill="#1a8a98" stroke="#0b3a42" stroke-width="0.8"/>
<circle cx="438.10" cy="267.20" r="2.90" fill="#1a8a98" stroke="#0b3a42" stroke-width="0.8"/>
<circle cx="456.00" cy="266.40" r="2.90" fill="#1a8a98" stroke="#0b3a42" stroke-width="0.8"/>
<circle cx="473.80" cy="264.80" r="2.90" fill="#1a8a98" stroke="#0b3a42" stroke-width="0.8"/>
<circle cx="491.60" cy="261.70" r="2.90" fill="#1a8a98" stroke="#0b3a42" stroke-width="0.8"/>
<circle cx="509.40" cy="266.90" r="2.90" fill="#1a8a98" stroke="#0b3a42" stroke-width="0.8"/>
<circle cx="420.30" cy="225.30" r="2.90" fill="#d6503a" stroke="#6a2418" stroke-width="0.8"/>
<circle cx="438.10" cy="233.70" r="2.90" fill="#d6503a" stroke="#6a2418" stroke-width="0.8"/>
<circle cx="456.00" cy="242.00" r="2.90" fill="#d6503a" stroke="#6a2418" stroke-width="0.8"/>
<circle cx="473.80" cy="249.60" r="2.90" fill="#d6503a" stroke="#6a2418" stroke-width="0.8"/>
<circle cx="491.60" cy="259.60" r="2.90" fill="#d6503a" stroke="#6a2418" stroke-width="0.8"/>
<circle cx="509.40" cy="264.80" r="2.90" fill="#d6503a" stroke="#6a2418" stroke-width="0.8"/>
<path d="M413.6,260 L412,260 L412,275 L413.6,275" fill="none" stroke="#8a8a8a" stroke-width="0.9"/>
<text x="401" y="269.6" font-size="8.71" fill="#1e1e1e" stroke="#1e1e1e" stroke-width="0.26" textLength="7.9" lengthAdjust="spacingAndGlyphs">ns</text>
</svg>
</body></html>
